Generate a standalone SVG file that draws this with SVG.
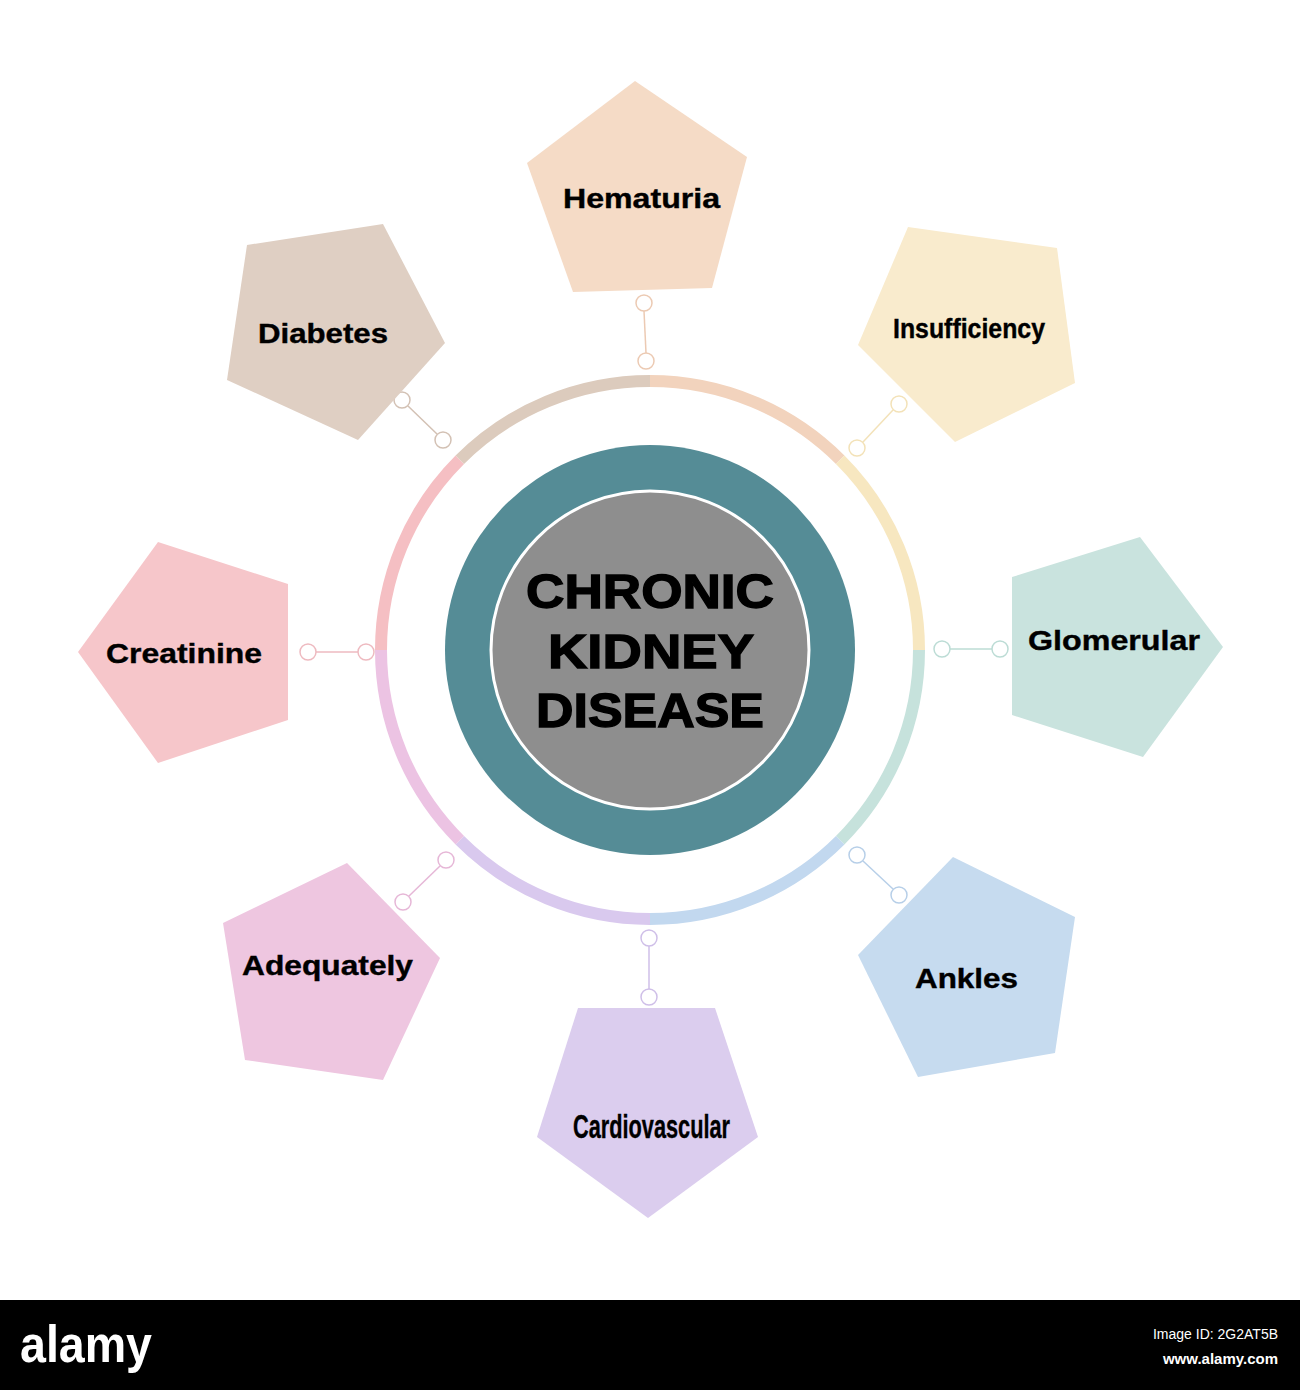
<svg xmlns="http://www.w3.org/2000/svg" width="1300" height="1390" viewBox="0 0 1300 1390">
<style>
.lbl{font-family:"Liberation Sans",Arial,sans-serif;font-weight:bold;font-size:28px;fill:#000;text-anchor:middle;stroke:#000;stroke-width:0.4}
.ctr{font-family:"Liberation Sans",Arial,sans-serif;font-weight:bold;font-size:49px;fill:#000;text-anchor:middle;stroke:#000;stroke-width:1.4}
.seg{fill:none;stroke-width:12}
.dot{fill:#fff;stroke-width:1.5}
.ln{stroke-width:1.5;fill:none}
.ft{font-family:"Liberation Sans",Arial,sans-serif;fill:#fff}
</style>
<rect x="0" y="0" width="1300" height="1390" fill="#fff"/>

<g id="ring">
<path class="seg" stroke="#c6e2dc" d="M919,650 A269,269 0 0 1 840.2,840.2"/>
<path class="seg" stroke="#c2d8ef" d="M840.2,840.2 A269,269 0 0 1 650,919"/>
<path class="seg" stroke="#d9c9ee" d="M650,919 A269,269 0 0 1 459.8,840.2"/>
<path class="seg" stroke="#ecc3e3" d="M459.8,840.2 A269,269 0 0 1 381,650"/>
<path class="seg" stroke="#f5bfc3" d="M381,650 A269,269 0 0 1 459.8,459.8"/>
<path class="seg" stroke="#dccbbd" d="M459.8,459.8 A269,269 0 0 1 650,381"/>
<path class="seg" stroke="#f2d3bd" d="M650,381 A269,269 0 0 1 840.2,459.8"/>
<path class="seg" stroke="#f7e7c0" d="M840.2,459.8 A269,269 0 0 1 919,650"/>
</g>

<g id="connectors">
<g stroke="#eccab3"><line class="ln" x1="644" y1="311" x2="646" y2="353"/><circle class="dot" cx="644" cy="303" r="8"/><circle class="dot" cx="646" cy="361" r="8"/></g>
<g stroke="#f3e2b8"><line class="ln" x1="893" y1="410" x2="863" y2="442"/><circle class="dot" cx="899" cy="404" r="8"/><circle class="dot" cx="857" cy="448" r="8"/></g>
<g stroke="#bcdcd5"><line class="ln" x1="950" y1="649" x2="992" y2="649"/><circle class="dot" cx="942" cy="649" r="8"/><circle class="dot" cx="1000" cy="649" r="8"/></g>
<g stroke="#b7cfe8"><line class="ln" x1="863" y1="861" x2="893" y2="889"/><circle class="dot" cx="857" cy="855" r="8"/><circle class="dot" cx="899" cy="895" r="8"/></g>
<g stroke="#cfbfe8"><line class="ln" x1="649" y1="946" x2="649" y2="989"/><circle class="dot" cx="649" cy="938" r="8"/><circle class="dot" cx="649" cy="997" r="8"/></g>
<g stroke="#e6b7d7"><line class="ln" x1="440" y1="866" x2="409" y2="896"/><circle class="dot" cx="446" cy="860" r="8"/><circle class="dot" cx="403" cy="902" r="8"/></g>
<g stroke="#eebac0"><line class="ln" x1="316" y1="652" x2="358" y2="652"/><circle class="dot" cx="308" cy="652" r="8"/><circle class="dot" cx="366" cy="652" r="8"/></g>
<g stroke="#d3c1b4"><line class="ln" x1="408" y1="406" x2="437" y2="434"/><circle class="dot" cx="402" cy="400" r="8"/><circle class="dot" cx="443" cy="440" r="8"/></g>
</g>

<g id="center">
<circle cx="650" cy="650" r="205" fill="#558c96"/>
<circle cx="650" cy="650" r="159" fill="#8e8e8e" stroke="#fff" stroke-width="3"/>
<text class="ctr" x="650" y="608" textLength="248" lengthAdjust="spacingAndGlyphs">CHRONIC</text>
<text class="ctr" x="651" y="668" textLength="206" lengthAdjust="spacingAndGlyphs">KIDNEY</text>
<text class="ctr" x="650" y="727" textLength="228" lengthAdjust="spacingAndGlyphs">DISEASE</text>
</g>

<g id="hematuria">
<polygon points="635,81 747,157 712,288 573,292 527,163" fill="#f5dbc6"/>
<text class="lbl" x="641.5" y="208" textLength="157" lengthAdjust="spacingAndGlyphs">Hematuria</text>
</g>
<g id="insufficiency">
<polygon points="908,227 1057,248 1075,383 955,442 858,345" fill="#f9ebcd"/>
<text class="lbl" x="969" y="338" textLength="152" lengthAdjust="spacingAndGlyphs">Insufficiency</text>
</g>
<g id="glomerular">
<polygon points="1140,537 1223,647 1143,757 1012,715 1012,577" fill="#c9e3de"/>
<text class="lbl" x="1114" y="650" textLength="172" lengthAdjust="spacingAndGlyphs">Glomerular</text>
</g>
<g id="ankles">
<polygon points="953,857 1075,917 1055,1053 918,1077 858,955" fill="#c6dbef"/>
<text class="lbl" x="966.5" y="988" textLength="103" lengthAdjust="spacingAndGlyphs">Ankles</text>
</g>
<g id="cardiovascular">
<polygon points="578,1008 715,1008 758,1137 648,1218 537,1137" fill="#dbcdee"/>
<text class="lbl" x="651.5" y="1138" style="font-size:34px" textLength="157" lengthAdjust="spacingAndGlyphs">Cardiovascular</text>
</g>
<g id="adequately">
<polygon points="347,863 440,958 383,1080 245,1060 223,923" fill="#eec6e0"/>
<text class="lbl" x="327.5" y="975" textLength="171" lengthAdjust="spacingAndGlyphs">Adequately</text>
</g>
<g id="creatinine">
<polygon points="158,542 288,584 288,720 158,763 78,652" fill="#f6c6ca"/>
<text class="lbl" x="184" y="663" textLength="156" lengthAdjust="spacingAndGlyphs">Creatinine</text>
</g>
<g id="diabetes">
<polygon points="247,245 383,224 445,343 358,440 227,380" fill="#dfcfc3"/>
<text class="lbl" x="323" y="343" textLength="130" lengthAdjust="spacingAndGlyphs">Diabetes</text>
</g>

<g id="footer">
<rect x="0" y="1300" width="1300" height="90" fill="#000"/>
<text class="ft" x="20" y="1362" font-weight="bold" font-size="52" textLength="132" lengthAdjust="spacingAndGlyphs">alamy</text>
<text class="ft" x="1278" y="1339" font-size="14" text-anchor="end">Image ID: 2G2AT5B</text>
<text class="ft" x="1278" y="1364" font-weight="bold" font-size="15" text-anchor="end">www.alamy.com</text>
</g>
</svg>
